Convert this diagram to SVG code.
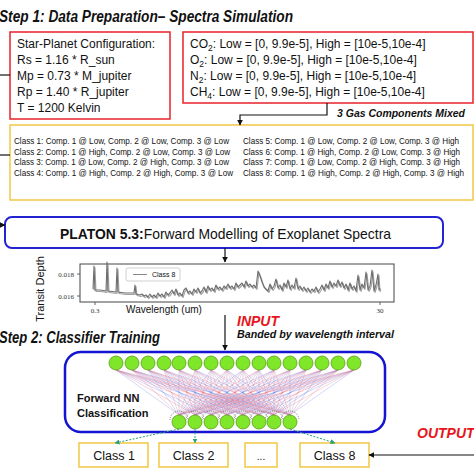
<svg xmlns="http://www.w3.org/2000/svg" width="474" height="474" viewBox="0 0 474 474">
<style>
text{font-family:"Liberation Sans",Arial,sans-serif;fill:#111}
.title{font-size:16px;font-weight:bold;font-style:italic}
.cfg{font-size:12px}
.cls{font-size:8.2px}
.red{fill:#e8141b}
.bi{font-weight:bold;font-style:italic}
.conn{stroke:#111;stroke-width:1.2;fill:none}
.node{fill:#80e62a;stroke:#5a9e18;stroke-width:0.8}
.cbox{fill:#fff;stroke:#f2c744;stroke-width:1.5}
.tick{font-family:"Liberation Serif",serif;font-size:7px;fill:#333}
</style>
<defs>
<marker id="ah" viewBox="0 0 10 10" refX="9" refY="5" markerWidth="5" markerHeight="5" orient="auto"><path d="M0,0L10,5L0,10z" fill="#111"/></marker>
<marker id="gh" viewBox="0 0 10 10" refX="9" refY="5" markerWidth="5" markerHeight="5" orient="auto"><path d="M0,0L10,5L0,10z" fill="#2aa07a"/></marker>
<path id="spec" fill="none" stroke-linejoin="round" d="M93,289 L94,266 L95,290 L100,290 L106,291 L107,262 L108,291 L116,292 L117,268 L118,292 L125,293 L134,293 L135,285 L136,294 L140,295 L142,294 L144,296 L146,295 L148,297 L150,294 L152,297 L154,295 L156,297 L158,293 L160,296 L162,294 L164,297 L166,292 L168,295 L170,293 L172,290 L174,294 L176,289 L178,295 L180,293 L182,296 L184,290 L186,288 L188,293 L190,291 L192,294 L194,289 L196,292 L198,288 L200,293 L202,291 L204,287 L206,292 L208,286 L210,290 L212,288 L214,291 L216,285 L218,289 L220,287 L222,290 L224,286 L226,288 L228,284 L230,288 L232,286 L234,289 L236,283 L238,287 L240,285 L242,283 L244,287 L246,281 L248,286 L250,284 L252,287 L254,285 L256,288 L258,271 L260,276 L262,282 L264,287 L266,289 L268,291 L270,284 L272,289 L274,286 L276,279 L278,288 L280,285 L282,290 L284,283 L286,287 L288,280 L290,289 L292,285 L294,288 L296,278 L298,289 L300,286 L302,290 L304,287 L306,291 L308,288 L310,292 L312,289 L314,291 L316,287 L318,292 L320,289 L322,285 L324,290 L326,284 L328,288 L330,281 L332,287 L334,283 L336,286 L338,280 L340,286 L342,282 L344,288 L346,284 L348,290 L350,283 L352,289 L354,286 L356,291 L358,275 L360,290 L362,284 L364,288 L366,272 L368,290 L370,286 L372,270 L374,291 L376,285 L378,274 L379,290 L380,288"/>
</defs>
<rect width="474" height="474" fill="#fff"/>

<text class="title" x="-1" y="22" textLength="294" lengthAdjust="spacingAndGlyphs">Step 1: Data Preparation– Spectra Simulation</text>

<g id="config">
<rect x="10" y="32" width="160" height="87" fill="#fff" stroke="#e8222a" stroke-width="1.5"/>
<text class="cfg" x="17" y="48">Star-Planet Configuration:</text>
<text class="cfg" x="17" y="64">Rs = 1.16 * R_sun</text>
<text class="cfg" x="17" y="80">Mp = 0.73 * M_jupiter</text>
<text class="cfg" x="17" y="96">Rp = 1.40 * R_jupiter</text>
<text class="cfg" x="17" y="112">T = 1200 Kelvin</text>
</g>

<g id="gases">
<rect x="183" y="32" width="290" height="71" fill="#fff" stroke="#e8222a" stroke-width="1.5"/>
<text class="cfg" x="190" y="48">CO<tspan font-size="8.5" dy="3">2</tspan><tspan dy="-3">: Low = [0, 9.9e-5], High = [10e-5,10e-4]</tspan></text>
<text class="cfg" x="190" y="64">O<tspan font-size="8.5" dy="3">2</tspan><tspan dy="-3">: Low = [0, 9.9e-5], High = [10e-5,10e-4]</tspan></text>
<text class="cfg" x="190" y="80">N<tspan font-size="8.5" dy="3">2</tspan><tspan dy="-3">: Low = [0, 9.9e-5], High = [10e-5,10e-4]</tspan></text>
<text class="cfg" x="190" y="96">CH<tspan font-size="8.5" dy="3">4</tspan><tspan dy="-3">: Low = [0, 9.9e-5], High = [10e-5,10e-4]</tspan></text>
</g>

<text class="bi" x="337" y="117" font-size="11" textLength="128" lengthAdjust="spacingAndGlyphs">3 Gas Components Mixed</text>

<g id="classes">
<rect x="10" y="125" width="463" height="75" fill="#fff" stroke="#f2c744" stroke-width="1.5"/>
<text class="cls" x="14" y="144" textLength="215" lengthAdjust="spacingAndGlyphs">Class 1: Comp. 1 @ Low, Comp. 2 @ Low, Comp. 3 @ Low</text>
<text class="cls" x="14" y="154.5" textLength="216" lengthAdjust="spacingAndGlyphs">Class 2: Comp. 1 @ High, Comp. 2 @ Low, Comp. 3 @ Low</text>
<text class="cls" x="14" y="165" textLength="215" lengthAdjust="spacingAndGlyphs">Class 3: Comp. 1 @ Low, Comp. 2 @ High, Comp. 3 @ Low</text>
<text class="cls" x="14" y="175.5" textLength="219" lengthAdjust="spacingAndGlyphs">Class 4: Comp. 1 @ High, Comp. 2 @  High, Comp. 3 @ Low</text>
<text class="cls" x="243" y="144" textLength="216" lengthAdjust="spacingAndGlyphs">Class 5: Comp. 1 @ Low, Comp. 2 @ Low, Comp. 3 @ High</text>
<text class="cls" x="243" y="154.5" textLength="217" lengthAdjust="spacingAndGlyphs">Class 6: Comp. 1 @ High, Comp. 2 @ Low, Comp. 3 @ High</text>
<text class="cls" x="243" y="165" textLength="217" lengthAdjust="spacingAndGlyphs">Class 7: Comp. 1 @ Low, Comp. 2 @ High, Comp. 3 @ High</text>
<text class="cls" x="243" y="175.5" textLength="221" lengthAdjust="spacingAndGlyphs">Class 8: Comp. 1 @ High, Comp. 2 @  High, Comp. 3 @ High</text>
</g>

<g id="platon">
<rect x="5" y="217" width="438" height="31" rx="7" fill="#fff" stroke="#2323d2" stroke-width="2"/>
<text x="60" y="238.5" font-size="15" textLength="331" lengthAdjust="spacingAndGlyphs"><tspan font-weight="bold">PLATON 5.3:</tspan>Forward Modelling of Exoplanet Spectra</text>
</g>

<g id="spectrum">
<rect x="80" y="264" width="314" height="38" fill="#fff" stroke="#444" stroke-width="1"/>
<path d="M80,274h-3M80,296h-3M95,302v3M380,302v3" stroke="#444" stroke-width="0.8"/>
<text class="tick" x="74" y="276.5" text-anchor="end">0.018</text>
<text class="tick" x="74" y="298.5" text-anchor="end">0.016</text>
<text class="tick" x="95" y="313" text-anchor="middle">0.3</text>
<text class="tick" x="380" y="313" text-anchor="middle">30</text>
<text x="164" y="313" font-size="10" text-anchor="middle" fill="#222">Wavelength (um)</text>
<text transform="translate(44,289) rotate(-90)" font-size="11" text-anchor="middle" fill="#222">Transit Depth</text>
<rect x="126" y="268" width="54" height="13" rx="2" fill="#fff" stroke="#bbb" stroke-width="0.7"/>
<path d="M133,274.5h14" stroke="#888" stroke-width="1"/>
<text x="152" y="277" font-size="7" fill="#333">Class 8</text>
<use href="#spec" stroke="#8a8a8a" stroke-width="1.1" stroke-opacity="0.8" transform="translate(1,1.5)"/>
<use href="#spec" stroke="#6e6e6e" stroke-width="1.1"/>
</g>

<text class="title" x="-1" y="343" textLength="161" lengthAdjust="spacingAndGlyphs">Step 2: Classifier Training</text>
<text class="bi red" x="237" y="326" font-size="14">INPUT</text>
<text class="bi" x="237" y="337.5" font-size="11.5" textLength="157" lengthAdjust="spacingAndGlyphs">Banded by wavelength interval</text>

<g id="nn">
<rect x="65" y="352" width="320" height="80" rx="16" fill="#fff" stroke="#1414d2" stroke-width="2.5"/>
<path fill="none" stroke="#6b7be6" stroke-width="0.5" stroke-opacity="0.6" d="M116,370L179,415M116,370L211,415M116,370L243,415M116,370L274,415M132,370L195,415M132,370L227,415M132,370L259,415M132,370L290,415M148,370L179,415M148,370L211,415M148,370L243,415M148,370L274,415M164,370L195,415M164,370L227,415M164,370L259,415M164,370L290,415M179,370L179,415M179,370L211,415M179,370L243,415M179,370L274,415M195,370L195,415M195,370L227,415M195,370L259,415M195,370L290,415M211,370L179,415M211,370L211,415M211,370L243,415M211,370L274,415M227,370L195,415M227,370L227,415M227,370L259,415M227,370L290,415M243,370L179,415M243,370L211,415M243,370L243,415M243,370L274,415M259,370L195,415M259,370L227,415M259,370L259,415M259,370L290,415M274,370L179,415M274,370L211,415M274,370L243,415M274,370L274,415M290,370L195,415M290,370L227,415M290,370L259,415M290,370L290,415M306,370L179,415M306,370L211,415M306,370L243,415M306,370L274,415M322,370L195,415M322,370L227,415M322,370L259,415M322,370L290,415M338,370L179,415M338,370L211,415M338,370L243,415M338,370L274,415M354,370L195,415M354,370L227,415M354,370L259,415M354,370L290,415"/>
<path fill="none" stroke="#e66b7b" stroke-width="0.5" stroke-opacity="0.6" d="M116,370L195,415M116,370L227,415M116,370L259,415M116,370L290,415M132,370L179,415M132,370L211,415M132,370L243,415M132,370L274,415M148,370L195,415M148,370L227,415M148,370L259,415M148,370L290,415M164,370L179,415M164,370L211,415M164,370L243,415M164,370L274,415M179,370L195,415M179,370L227,415M179,370L259,415M179,370L290,415M195,370L179,415M195,370L211,415M195,370L243,415M195,370L274,415M211,370L195,415M211,370L227,415M211,370L259,415M211,370L290,415M227,370L179,415M227,370L211,415M227,370L243,415M227,370L274,415M243,370L195,415M243,370L227,415M243,370L259,415M243,370L290,415M259,370L179,415M259,370L211,415M259,370L243,415M259,370L274,415M274,370L195,415M274,370L227,415M274,370L259,415M274,370L290,415M290,370L179,415M290,370L211,415M290,370L243,415M290,370L274,415M306,370L195,415M306,370L227,415M306,370L259,415M306,370L290,415M322,370L179,415M322,370L211,415M322,370L243,415M322,370L274,415M338,370L195,415M338,370L227,415M338,370L259,415M338,370L290,415M354,370L179,415M354,370L211,415M354,370L243,415M354,370L274,415"/>
<path fill="none" stroke="#555" stroke-width="0.7" stroke-dasharray="1,1" d="M170,420a9,9 0 0 1 18,0M186,420a9,9 0 0 1 18,0M202,420a9,9 0 0 1 18,0M218,420a9,9 0 0 1 18,0M234,420a9,9 0 0 1 18,0M250,420a9,9 0 0 1 18,0M265,420a9,9 0 0 1 18,0M281,420a9,9 0 0 1 18,0"/>
<g>
<circle class="node" cx="116" cy="363" r="7"/><circle class="node" cx="132" cy="363" r="7"/><circle class="node" cx="148" cy="363" r="7"/><circle class="node" cx="164" cy="363" r="7"/><circle class="node" cx="179" cy="363" r="7"/><circle class="node" cx="195" cy="363" r="7"/><circle class="node" cx="211" cy="363" r="7"/><circle class="node" cx="227" cy="363" r="7"/><circle class="node" cx="243" cy="363" r="7"/><circle class="node" cx="259" cy="363" r="7"/><circle class="node" cx="274" cy="363" r="7"/><circle class="node" cx="290" cy="363" r="7"/><circle class="node" cx="306" cy="363" r="7"/><circle class="node" cx="322" cy="363" r="7"/><circle class="node" cx="338" cy="363" r="7"/><circle class="node" cx="354" cy="363" r="7"/>
</g>
<g>
<circle class="node" cx="179" cy="422" r="7"/><circle class="node" cx="195" cy="422" r="7"/><circle class="node" cx="211" cy="422" r="7"/><circle class="node" cx="227" cy="422" r="7"/><circle class="node" cx="243" cy="422" r="7"/><circle class="node" cx="259" cy="422" r="7"/><circle class="node" cx="274" cy="422" r="7"/><circle class="node" cx="290" cy="422" r="7"/>
</g>
<text x="77" y="402" font-size="11" font-weight="bold">Forward NN</text>
<text x="77" y="417" font-size="11" font-weight="bold">Classification</text>
</g>

<g id="class1"><rect class="cbox" x="79" y="443" width="69" height="24"/><text x="114" y="459.5" font-size="12.5" text-anchor="middle" fill="#222">Class 1</text></g>
<g id="class2"><rect class="cbox" x="159" y="443" width="69" height="24"/><text x="193.5" y="459.5" font-size="12.5" text-anchor="middle" fill="#222">Class 2</text></g>
<g id="classdots"><rect class="cbox" x="245" y="443" width="32" height="24"/><text x="261" y="459.5" font-size="10" text-anchor="middle" fill="#222">...</text></g>
<g id="class8"><rect class="cbox" x="300" y="443" width="69" height="24"/><text x="334.5" y="459.5" font-size="12.5" text-anchor="middle" fill="#222">Class 8</text></g>

<text class="bi red" x="417" y="438" font-size="14">OUTPUT</text>

<g id="connectors">
<path class="conn" d="M0,75H10"/>
<path class="conn" d="M0,155H10"/>
<path class="conn" d="M0,225H5" marker-end="url(#ah)"/>
<path class="conn" d="M327,103V115H240V125" marker-end="url(#ah)"/>
<path class="conn" d="M225,248V262" marker-end="url(#ah)"/>
<path class="conn" d="M225,315V350" marker-end="url(#ah)"/>
<path class="conn" d="M474,455H369" marker-end="url(#ah)"/>
<path fill="none" stroke="#2aa07a" stroke-width="1" stroke-dasharray="2,1.5" d="M179,429L115,443" marker-end="url(#gh)"/>
<path fill="none" stroke="#2aa07a" stroke-width="1" stroke-dasharray="2,1.5" d="M195,429V443" marker-end="url(#gh)"/>
<path fill="none" stroke="#2aa07a" stroke-width="1" stroke-dasharray="2,1.5" d="M290,429L335,443" marker-end="url(#gh)"/>
</g>
</svg>
